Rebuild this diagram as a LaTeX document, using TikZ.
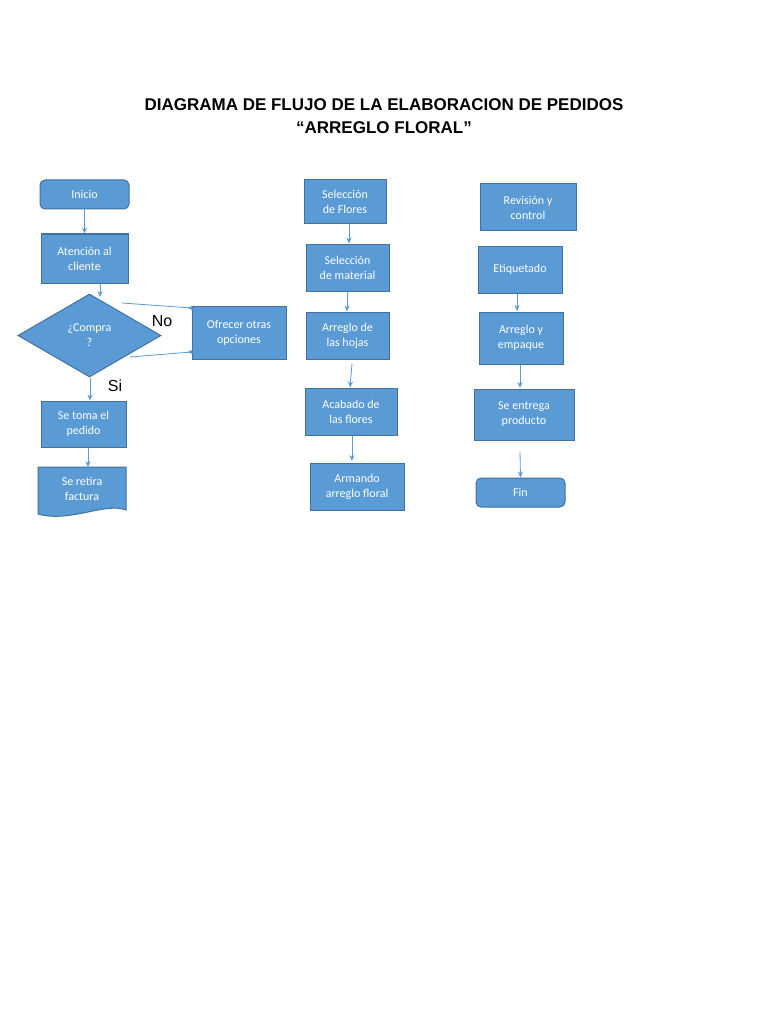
\documentclass[tikz,border=0pt]{standalone}
\usepackage{fontspec}
\setmainfont{Carlito}
\newfontfamily\titlefont{Liberation Sans}
\usetikzlibrary{arrows.meta,shapes.geometric}
\definecolor{bfill}{HTML}{5B9BD5}
\definecolor{bline}{HTML}{41719C}
\definecolor{arr}{HTML}{5B9BD5}
\tikzset{
  box/.style={draw=bline,fill=bfill,line width=1pt,text=white,align=center,font=\fontsize{12}{15}\selectfont,inner sep=0pt},
  conn/.style={draw=arr,line width=0.8pt,-{Stealth[length=6pt,width=5pt]}},
  lbl/.style={font=\titlefont\fontsize{16}{18}\selectfont}
}
\begin{document}
\begin{tikzpicture}[x=1pt,y=-1pt]
\useasboundingbox (0,0) rectangle (768,1024);
\fill[white] (0,0) rectangle (768,1024);
\node[font=\titlefont\bfseries\fontsize{17}{23}\selectfont,align=center] (title) at (384,116) {DIAGRAMA DE FLUJO DE LA ELABORACION DE PEDIDOS\\“ARREGLO FLORAL”};
% left column
\node[box,rounded corners=5pt,minimum width=89pt,minimum height=29pt] (inicio) at (84.5,194.5) {Inicio};
\node[box,minimum width=87pt,minimum height=49pt] (aten) at (84.5,258.5) {Atención al\\cliente};
\node[box,diamond,aspect=1.72,minimum width=143pt,minimum height=83pt] (comp) at (89.5,335.5) {¿Compra\\?};
\node[box,minimum width=94pt,minimum height=53pt] (ofre) at (239,332.5) {Ofrecer otras\\opciones};
\node[box,minimum width=85pt,minimum height=46pt] (toma) at (83.5,424) {Se toma el\\pedido};
\fill[bfill] (38,467) -- (126,467) -- (126,510) .. controls (105,502) and (70,523) .. (38,514) -- cycle;
\draw[bline,line width=1pt] (38,467) -- (126,467) -- (126,510) .. controls (105,502) and (70,523) .. (38,514) -- cycle;
\node[text=white,align=center,font=\fontsize{12}{15}\selectfont] (fact) at (82,489) {Se retira\\factura};
\coordinate (fact-top) at (88,467);
\node[lbl] (no) at (162,321) {No};
\node[lbl] (si) at (115,386) {Si};
\draw[conn] (inicio.south) -- (aten.north);
\draw[conn] (aten.south -| 100,0) -- (100,297);
\draw[conn] (122,303) -- (ofre.north west |- 0,308) -- ++(-4,0);
\draw[conn] (130,357) -- (ofre.west |- 0,352) -- ++(-4,0);
\draw[conn] (comp.south -| 90,0) -- (toma.north -| 90,0);
\draw[conn] (toma.south -| 88,0) -- (fact-top);
% middle column
\node[box,minimum width=82pt,minimum height=44pt] (m1) at (345,202) {Selección\\de Flores};
\node[box,minimum width=83pt,minimum height=47pt] (m2) at (347.5,267.5) {Selección\\de material};
\node[box,minimum width=83pt,minimum height=47pt] (m3) at (347.5,335.5) {Arreglo de\\las hojas};
\node[box,minimum width=92pt,minimum height=47pt] (m4) at (351,411.5) {Acabado de\\las flores};
\node[box,minimum width=94pt,minimum height=47pt] (m5) at (357,486.5) {Armando\\arreglo floral};
\draw[conn] (m1.south -| 349,0) -- (m2.north -| 349,0);
\draw[conn] (m2.south -| 347,0) -- (m3.north -| 347,0);
\draw[conn] (352,364) -- (m4.north -| 350,0);
\draw[conn] (m4.south -| 352,0) -- (352,461);
% right column
\node[box,minimum width=96pt,minimum height=47pt] (r1) at (528,207.5) {Revisión y\\control};
\node[box,minimum width=84pt,minimum height=47pt] (r2) at (520,269.5) {Etiquetado};
\node[box,minimum width=84pt,minimum height=52pt] (r3) at (521,338) {Arreglo y\\empaque};
\node[box,minimum width=100pt,minimum height=51pt] (r4) at (524,414.5) {Se entrega\\producto};
\node[box,rounded corners=5pt,minimum width=89pt,minimum height=29pt] (fin) at (520.5,492.5) {Fin};
\draw[conn] (r2.south -| 517,0) -- (517,311);
\draw[conn] (r3.south -| 520,0) -- (520,388);
\draw[conn] (520,452) -- (fin.north);
\end{tikzpicture}
\end{document}
